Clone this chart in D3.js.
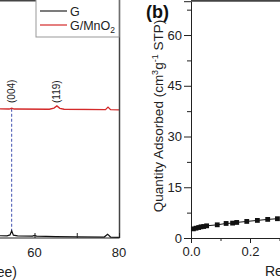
<!DOCTYPE html>
<html>
<head>
<meta charset="utf-8">
<script src="https://cdn.jsdelivr.net/npm/d3@7"></script>
<style>
body { margin: 0; background: #fff; }
svg { display: block; font-family: "Liberation Sans", Arial, sans-serif; }
</style>
</head>
<body>
<div id="chart"></div>
<script>
// XRD patterns (panel a), 2theta vs intensity (a.u.)
var gTheta = [50, 53.5, 54.2, 54.6, 55.0, 56, 59.5, 60, 60.5, 65, 70, 76.5, 77.3, 78, 80];
var gInt = [1.0, 0.9, 1.3, 3.0, 1.2, 0.9, 0.8, 1.1, 0.8, 0.6, 0.5, 0.4, 1.6, 0.4, 0.3];
var gmTheta = [50, 54, 54.6, 55.2, 63.5, 64.6, 65.3, 66, 67, 76.8, 77.4, 78, 80];
var gmInt = [54.3, 54.2, 54.5, 54.2, 54.1, 54.6, 55.5, 54.5, 54.1, 53.9, 55.0, 53.9, 53.8];
var peakLabels = ["(004)", "(119)"];
var peakTheta = [54.6, 65.3];
var xrdTicks = [60, 80];

// N2 isotherm (panel b)
var pRel = [0.008, 0.017, 0.026, 0.034, 0.043, 0.053, 0.089, 0.119, 0.141, 0.155, 0.189, 0.225, 0.26, 0.293];
var qAds = [2.7, 2.9, 3.1, 3.3, 3.4, 3.6, 3.9, 4.3, 4.4, 4.6, 4.9, 5.2, 5.5, 5.7];
var bYTicks = [0, 15, 30, 45, 60];
var bXTicks = [0.0, 0.2];

var svgWidth = 280;
var svgHeight = 280;

var svg = d3.select("#chart")
    .append("svg")
    .attr("width", svgWidth)
    .attr("height", svgHeight);

var ink = "#222";

// ---------- panel (a) ----------
var xA = d3.scaleLinear().domain([40, 80]).range([-50, 119]);
var yA = d3.scaleLinear().domain([0, 100]).range([238, 0]);

var lineA = d3.line().x(d => xA(d[0])).y(d => yA(d[1]));
var gData = gTheta.map((t, i) => [t, gInt[i]]);
var gmData = gmTheta.map((t, i) => [t, gmInt[i]]);

// dashed reference line at (004)
svg.append("line")
    .attr("x1", xA(peakTheta[0])).attr("x2", xA(peakTheta[0]))
    .attr("y1", yA(54.3)).attr("y2", yA(2.8))
    .attr("stroke", "#4050b0")
    .attr("stroke-width", 1)
    .attr("stroke-dasharray", "3,2");

svg.append("path")
    .datum(gmData)
    .attr("d", lineA)
    .attr("fill", "none")
    .attr("stroke", "#d42a2a")
    .attr("stroke-width", 1.3);

svg.append("path")
    .datum(gData)
    .attr("d", lineA)
    .attr("fill", "none")
    .attr("stroke", "#111")
    .attr("stroke-width", 1.2);

// peak labels
peakLabels.forEach(function(lab, i) {
    svg.append("text")
        .attr("transform", `translate(${xA(peakTheta[i]) + 3.5}, 103) rotate(-90)`)
        .attr("font-size", "10px")
        .attr("fill", ink)
        .text(lab);
});

// frame of (a)
svg.append("line").attr("x1", 0).attr("x2", 119.5).attr("y1", 238).attr("y2", 238)
    .attr("stroke", ink).attr("stroke-width", 1.2);
svg.append("line").attr("x1", 119.5).attr("x2", 119.5).attr("y1", 0).attr("y2", 238)
    .attr("stroke", "#444").attr("stroke-width", 1.5);
svg.append("line").attr("x1", 0).attr("x2", 119.5).attr("y1", 0.8).attr("y2", 0.8)
    .attr("stroke", "#444").attr("stroke-width", 1.5);

var axisA = d3.axisBottom(xA).tickValues(d3.range(40, 81, 10)).tickSize(-5).tickFormat("");
svg.append("g").attr("transform", "translate(0,238)").call(axisA)
    .call(g => g.select(".domain").remove())
    .selectAll("line").attr("stroke", ink);

xrdTicks.forEach(function(t) {
    svg.append("text")
        .attr("x", xA(t)).attr("y", 257)
        .attr("text-anchor", "middle")
        .attr("font-size", "13px")
        .attr("fill", ink)
        .text(t);
});

svg.append("text")
    .attr("x", 17).attr("y", 277)
    .attr("text-anchor", "end")
    .attr("font-size", "14px")
    .attr("fill", ink)
    .text("2\u03b8 (degree)");

// legend
svg.append("rect")
    .attr("x", 36).attr("y", -1).attr("width", 83).attr("height", 38)
    .attr("fill", "#fff").attr("stroke", "#999").attr("stroke-width", 1);
svg.append("line").attr("x1", 40).attr("x2", 67).attr("y1", 11).attr("y2", 11)
    .attr("stroke", "#111").attr("stroke-width", 1.1);
svg.append("line").attr("x1", 40).attr("x2", 67).attr("y1", 25).attr("y2", 25)
    .attr("stroke", "#d42a2a").attr("stroke-width", 1.2);
svg.append("text").attr("x", 70).attr("y", 15.5).attr("font-size", "12.5px").attr("fill", ink).text("G");
var lt = svg.append("text").attr("x", 70).attr("y", 29.5).attr("font-size", "12.5px").attr("fill", ink);
lt.append("tspan").text("G/MnO");
lt.append("tspan").attr("font-size", "8.5px").attr("dy", 3).text("2");

// ---------- panel (b) ----------
var xB = d3.scaleLinear().domain([0, 1]).range([191, 486]);
var yB = d3.scaleLinear().domain([0, 70]).range([238, 1.2]);

svg.append("text")
    .attr("x", 146).attr("y", 18)
    .attr("font-size", "18px")
    .attr("font-weight", "bold")
    .attr("fill", "#111")
    .text("(b)");

var leftAxis = d3.axisLeft(yB).tickValues(bYTicks).tickSize(7).tickPadding(2);
svg.append("g").attr("transform", `translate(${xB(0)},0)`).call(leftAxis)
    .call(g => g.select(".domain").attr("stroke", ink))
    .call(g => g.selectAll("line").attr("stroke", ink))
    .call(g => g.selectAll("text").attr("font-size", "13px").attr("fill", ink)
        .attr("font-family", "Liberation Sans, Arial, sans-serif"));

var leftMinor = d3.axisLeft(yB).tickValues(d3.range(7.5, 70, 15)).tickSize(4).tickFormat("");
svg.append("g").attr("transform", `translate(${xB(0)},0)`).call(leftMinor)
    .call(g => g.select(".domain").remove())
    .selectAll("line").attr("stroke", ink);

var bottomAxis = d3.axisBottom(xB).tickValues(bXTicks).tickSize(5).tickPadding(4)
    .tickFormat(d3.format(".1f"));
svg.append("g").attr("transform", "translate(0,238)").call(bottomAxis)
    .call(g => g.select(".domain").attr("stroke", ink))
    .call(g => g.selectAll("line").attr("stroke", ink))
    .call(g => g.selectAll("text").attr("font-size", "13px").attr("fill", ink)
        .attr("font-family", "Liberation Sans, Arial, sans-serif"));

var bottomMinor = d3.axisBottom(xB).tickValues([0.1, 0.3]).tickSize(3).tickFormat("");
svg.append("g").attr("transform", "translate(0,238)").call(bottomMinor)
    .call(g => g.select(".domain").remove())
    .selectAll("line").attr("stroke", ink);

// top frame
svg.append("line").attr("x1", xB(0)).attr("x2", 280).attr("y1", 0.8).attr("y2", 0.8)
    .attr("stroke", "#444").attr("stroke-width", 1.8);

// y label
var yl = svg.append("text")
    .attr("transform", `translate(163, 116) rotate(-90)`)
    .attr("text-anchor", "middle")
    .attr("font-size", "13.5px")
    .attr("fill", ink);
yl.append("tspan").text("Quantity Adsorbed (cm");
yl.append("tspan").attr("font-size", "9px").attr("dy", -5).text("3");
yl.append("tspan").attr("dy", 5).text("g");
yl.append("tspan").attr("font-size", "9px").attr("dy", -5).text("-1");
yl.append("tspan").attr("dy", 5).text(" STP)");

svg.append("text")
    .attr("x", 265).attr("y", 276)
    .attr("font-size", "14px")
    .attr("fill", ink)
    .text("Relative Pressure (P/P\u2080)");

var bData = pRel.map((p, i) => [p, qAds[i]]);
svg.append("path")
    .datum(bData)
    .attr("d", d3.line().x(d => xB(d[0])).y(d => yB(d[1])))
    .attr("fill", "none")
    .attr("stroke", "#111")
    .attr("stroke-width", 1);

svg.selectAll(".pt")
    .data(bData)
    .enter()
    .append("rect")
    .attr("class", "pt")
    .attr("x", d => xB(d[0]) - 2.4)
    .attr("y", d => yB(d[1]) - 2.4)
    .attr("width", 4.8)
    .attr("height", 4.8)
    .attr("fill", "#111");
</script>
</body>
</html>
